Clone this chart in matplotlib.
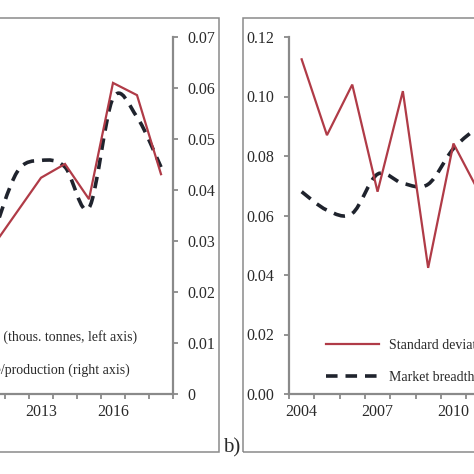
import numpy as np
import matplotlib
matplotlib.use('Agg')
import matplotlib.pyplot as plt
from matplotlib.path import Path
from matplotlib.patches import PathPatch, Rectangle
from matplotlib.lines import Line2D
from matplotlib.ticker import FixedLocator, FuncFormatter

plt.rcParams['font.family'] = ['Liberation Serif', 'DejaVu Serif']
plt.rcParams['font.size'] = 11.5

# Panel a) (only the right part is visible)
years_a = [2011, 2012, 2013, 2014, 2015, 2016, 2017, 2018]
volume_a = [0.029, 0.0357, 0.0424, 0.0451, 0.0382, 0.0610, 0.0586, 0.0431]   # plotted on right-axis scale
share_a = [0.031, 0.0435, 0.0458, 0.0445, 0.0365, 0.0580, 0.0543, 0.0445]
label_vol_a = 'Trade volume (thous. tonnes, left axis)'
label_share_a = 'Trade volume/production (right axis)'

# Panel b) (only the left part is visible)
years_b = [2004, 2005, 2006, 2007, 2008, 2009, 2010, 2011]
std_b = [0.1125, 0.087, 0.104, 0.068, 0.1018, 0.0424, 0.0842, 0.068]
breadth_b = [0.068, 0.0618, 0.0607, 0.0739, 0.0708, 0.0705, 0.0825, 0.090]
label_std_b = 'Standard deviation'
label_breadth_b = 'Market breadth'

year_labels = [2004, 2007, 2010, 2013, 2016]

red = '#b03b47'
dark = '#1f232d'
grey = '#8a8a8a'
txt = '#2a2a2a'
dash_style = (0, (3.2, 2.2))
fs = 11.5      # tick labels
fs_leg = 10    # legend texts

W = H = 474
fig = plt.figure(figsize=(W / 100, H / 100), dpi=100)


def box(x0, y0, x1, y1):
    return [x0 / W, 1 - y1 / H, (x1 - x0) / W, (y1 - y0) / H]


def smooth_path(x, y):
    # Excel-style smoothed line as cubic Bezier segments through the data points
    x = np.asarray(x, float)
    y = np.asarray(y, float)
    verts = [(x[0], y[0])]
    codes = [Path.MOVETO]
    n = len(x)
    for i in range(n - 1):
        p0 = (x[max(i - 1, 0)], y[max(i - 1, 0)])
        p1 = (x[i], y[i])
        p2 = (x[i + 1], y[i + 1])
        p3 = (x[min(i + 2, n - 1)], y[min(i + 2, n - 1)])
        c1 = (p1[0] + (p2[0] - p0[0]) / 6, p1[1] + (p2[1] - p0[1]) / 6)
        c2 = (p2[0] - (p3[0] - p1[0]) / 6, p2[1] - (p3[1] - p1[1]) / 6)
        verts += [c1, c2, p2]
        codes += [Path.CURVE4] * 3
    return Path(verts, codes)


def style_axis(ax, side):
    for s in ['top', 'left', 'right', 'bottom']:
        ax.spines[s].set_visible(False)
    for s in [side, 'bottom']:
        ax.spines[s].set_visible(True)
        ax.spines[s].set_color(grey)
        ax.spines[s].set_linewidth(1.6)
    ax.tick_params(axis='both', which='major', direction='out', length=3.5,
                   width=1.3, color=grey, labelcolor=txt, labelsize=fs)
    ax.tick_params(axis='x', which='major', labelbottom=False)
    ax.tick_params(axis='x', which='minor', length=0, pad=7, labelcolor=txt,
                   labelsize=fs)
    ax.set_facecolor('none')


# ---- panel a)
ax1 = fig.add_axes(box(173 - 24 * 8, 37, 173, 394))
ax1.set_xlim(years_a[0] - 0.5, years_a[-1] + 0.5)
ax1.set_ylim(0, 0.07)
ax1.yaxis.tick_right()
style_axis(ax1, 'right')
ax1.tick_params(axis='y', pad=7)
ax1.xaxis.set_major_locator(FixedLocator(np.arange(years_a[0] - 0.5, years_a[-1] + 1, 1)))
ax1.xaxis.set_minor_locator(FixedLocator([y for y in year_labels if years_a[0] <= y <= years_a[-1]]))
ax1.xaxis.set_minor_formatter(FuncFormatter(lambda v, p: f'{int(round(v))}'))
ax1.set_yticks(np.arange(0, 0.0701, 0.01))
ax1.yaxis.set_major_formatter(FuncFormatter(lambda v, p: '0' if abs(v) < 1e-9 else f'{v:.2f}'))
ax1.plot(years_a, volume_a, color=red, lw=1.6, solid_joinstyle='miter')
ax1.add_patch(PathPatch(smooth_path(years_a, share_a), fill=False, edgecolor=dark,
                        lw=2.6, linestyle=dash_style, capstyle='butt'))

fig.text(137 / W, 1 - 337 / H, label_vol_a, ha='right', va='center', color=txt, fontsize=fs_leg)
fig.text(130 / W, 1 - 370 / H, label_share_a, ha='right', va='center', color=txt, fontsize=fs_leg)

# ---- panel b)
ax2 = fig.add_axes(box(289, 37, 289 + 25.3 * 10, 394))
ax2.set_xlim(2003.5, 2013.5)
ax2.set_ylim(0, 0.12)
style_axis(ax2, 'left')
ax2.tick_params(axis='y', pad=7)
ax2.xaxis.set_major_locator(FixedLocator(np.arange(2003.5, 2014, 1)))
ax2.xaxis.set_minor_locator(FixedLocator(year_labels))
ax2.xaxis.set_minor_formatter(FuncFormatter(lambda v, p: f'{int(round(v))}'))
ax2.set_yticks(np.arange(0, 0.1201, 0.02))
ax2.yaxis.set_major_formatter(FuncFormatter(lambda v, p: f'{v:.2f}'))
ax2.plot(years_b, std_b, color=red, lw=1.6, solid_joinstyle='miter')
ax2.add_patch(PathPatch(smooth_path(years_b, breadth_b), fill=False, edgecolor=dark,
                        lw=2.6, linestyle=dash_style, capstyle='butt'))

handles = [Line2D([], [], color=red, lw=1.6),
           Line2D([], [], color=dark, lw=2.6, linestyle=dash_style)]
fig.legend(handles, [label_std_b, label_breadth_b], loc='upper left',
           bbox_to_anchor=(326 / W, 1 - 339 / H), frameon=False, fontsize=fs_leg,
           handlelength=3.8, handletextpad=0.72, labelspacing=1.38,
           borderpad=0, borderaxespad=0, labelcolor=txt)

# outer panel frames
fig.add_artist(Rectangle((-0.2, 1 - 452 / H), 0.2 + 219 / W, (452 - 18) / H,
                         transform=fig.transFigure, fill=False, edgecolor=grey, lw=1.1))
fig.add_artist(Rectangle((243 / W, 1 - 452 / H), 0.5, (452 - 18) / H,
                         transform=fig.transFigure, fill=False, edgecolor=grey, lw=1.1))
fig.text(223 / W, 1 - 452 / H, 'b)', ha='left', va='baseline', fontsize=15, color=txt)

fig.savefig('out.png', dpi=100)
